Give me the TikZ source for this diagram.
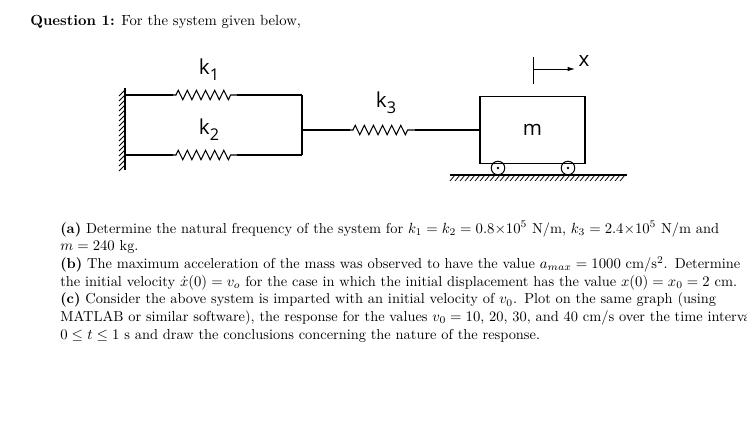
\documentclass[tikz,border=0pt]{standalone}
\usepackage{amsmath}
\usepackage{fontspec}
\newfontfamily\lblfont{Open Sans}
\usetikzlibrary{decorations.pathmorphing,patterns,arrows.meta}
\newcommand{\fullln}[1]{\makebox[\linewidth][s]{#1}\\}
\begin{document}
\begin{tikzpicture}[x=0.68pt,y=-0.68pt,
  wire/.style={line width=0.7pt},
  spr/.style={line width=0.7pt,decorate,decoration={zigzag,segment length=6.2pt,amplitude=3.2pt,pre length=2pt,post length=2pt}},
  lbl/.style={font=\lblfont\fontsize{14}{14}\selectfont,inner sep=0pt}]
\useasboundingbox (0,0) rectangle (747,438);
% wall
\coordinate (wt) at (125,88); \coordinate (wb) at (125,170);
\draw[wire] (wt) -- (wb);
\foreach \y in {90,95,...,168} \draw[line width=0.5pt] (125,\y) -- (119,\y+6);
\coordinate (a1) at (125,95); \coordinate (s1a) at (173,95); \coordinate (s1b) at (237,95); \coordinate (j1) at (302,95);
\draw[wire] (a1) -- (s1a); \draw[spr] (s1a) -- (s1b); \draw[wire] (s1b) -- (j1);
\coordinate (a2) at (125,155); \coordinate (s2a) at (173,155); \coordinate (s2b) at (237,155); \coordinate (j2) at (302,155);
\draw[wire] (a2) -- (s2a); \draw[spr] (s2a) -- (s2b); \draw[wire] (s2b) -- (j2);
\draw[wire] (j1) -- (j2);
\coordinate (jm) at (302,130); \coordinate (s3a) at (350,130); \coordinate (s3b) at (415,130);
\draw[wire] (jm) -- (s3a); \draw[spr] (s3a) -- (s3b);
\node[lbl] (k1) at (209,70) {k\raisebox{-4pt}{\fontsize{11}{11}\selectfont 1}};
\node[lbl] (k2) at (209,130) {k\raisebox{-4pt}{\fontsize{11}{11}\selectfont 2}};
\node[lbl] (k3) at (386,103) {k\raisebox{-4pt}{\fontsize{11}{11}\selectfont 3}};
% mass
\node[draw,line width=0.7pt,minimum width=105*0.68pt,minimum height=67*0.68pt,lbl] (m) at (532.5,130) {m};
\draw[wire] (s3b) -- (m.west);
\foreach \cx in {498,568}{\draw[line width=0.7pt] (\cx,168) circle (4.6pt); \fill (\cx,168) circle (1pt);}
\draw[wire] (450,175) -- (627,175);
\foreach \x in {455,460,...,625} \draw[line width=0.5pt] (\x,175) -- (\x-5,181);
% x arrow
\draw[line width=0.6pt] (533,57) -- (533,84);
\coordinate (xs) at (533,69); \coordinate (xe) at (575,69);
\draw[line width=0.6pt,-{Latex[length=5pt,width=3pt]}] (xs) -- (xe);
\node[lbl] (xl) at (584,61) {x};
% text
\node[anchor=north west,inner sep=0pt] (q) at (30,15) {\textbf{Question 1:} For the system given below,};
\node[anchor=north west,inner sep=0pt,text width=658*0.68pt,align=left,font=\fontsize{9.8}{12}\selectfont] (t) at (60,221) {%
\fullln{\textbf{(a)} Determine the natural frequency of the system for $k_1=k_2=0.8\times10^5$ N/m, $k_3=2.4\times10^5$ N/m and}
$m=240$ kg.\\
\fullln{\textbf{(b)} The maximum acceleration of the mass was observed to have the value $a_{max}=1000$ cm/s$^2$. Determine}
\fullln{the initial velocity $\dot x(0)=v_o$ for the case in which the initial displacement has the value $x(0)=x_0=2$ cm.}
\fullln{\textbf{(c)} Consider the above system is imparted with an initial velocity of $v_0$. Plot on the same graph (using}
\fullln{MATLAB or similar software), the response for the values $v_0=10$, 20, 30, and 40 cm/s over the time interval}
$0\le t\le1$ s and draw the conclusions concerning the nature of the response.};
\end{tikzpicture}
\end{document}
